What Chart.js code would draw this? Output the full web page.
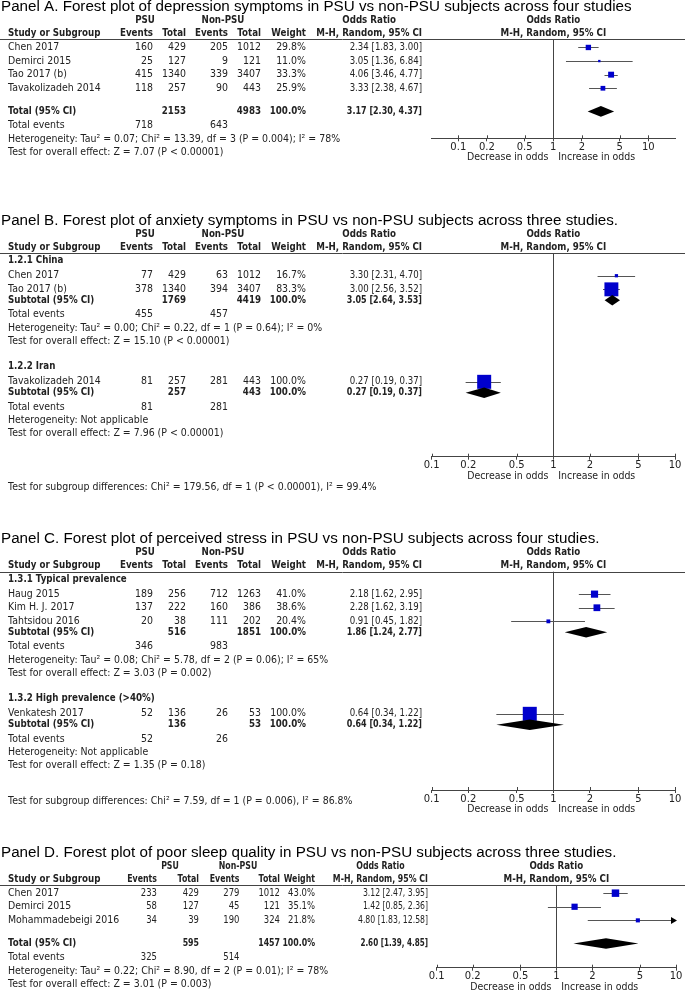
<!DOCTYPE html>
<html>
<head>
<meta charset="utf-8">
<script src="https://cdn.jsdelivr.net/npm/chart.js@4.4.1/dist/chart.umd.min.js"></script>
<style>
  html, body { margin: 0; padding: 0; background: #fff; }
  #page { position: relative; width: 685px; height: 992px; overflow: hidden; }
  #page canvas { position: absolute; left: 0; }
</style>
</head>
<body>
<div id="page">
  <canvas id="panelA"></canvas>
  <canvas id="panelB"></canvas>
  <canvas id="panelC"></canvas>
  <canvas id="panelD"></canvas>
</div>
<script>
// ---- shared axis ----
const tickValues = [0.1, 0.2, 0.5, 1, 2, 5, 10];
const tickLabels = ['0.1', '0.2', '0.5', '1', '2', '5', '10'];

// ---- Panel A: depression ----
const depTitle = 'Panel A. Forest plot of depression symptoms in PSU vs non-PSU subjects across four studies';
const depNames = ['Chen 2017', 'Demirci 2015', 'Tao 2017 (b)', 'Tavakolizadeh 2014'];
const depGroupOf = [0, 0, 0, 0];
const depGroups = [''];
const depPsu = [[160, 429], [25, 127], [415, 1340], [118, 257]];
const depNon = [[205, 1012], [9, 121], [339, 3407], [90, 443]];
const depWeight = [29.8, 11.0, 33.3, 25.9];
const depOR = [2.34, 3.05, 4.06, 3.33];
const depCI = [[1.83, 3.00], [1.36, 6.84], [3.46, 4.77], [2.38, 4.67]];
const depSubN = [[2153, 4983]];
const depSubEvents = [[718, 643]];
const depSubOR = [3.17];
const depSubCI = [[2.30, 4.37]];
const depNotes = [['Heterogeneity: Tau² = 0.07; Chi² = 13.39, df = 3 (P = 0.004); I² = 78%',
                   'Test for overall effect: Z = 7.07 (P < 0.00001)']];

// ---- Panel B: anxiety ----
const anxTitle = 'Panel B. Forest plot of anxiety symptoms in PSU vs non-PSU subjects across three studies.';
const anxNames = ['Chen 2017', 'Tao 2017 (b)', 'Tavakolizadeh 2014'];
const anxGroupOf = [0, 0, 1];
const anxGroups = ['1.2.1 China', '1.2.2 Iran'];
const anxPsu = [[77, 429], [378, 1340], [81, 257]];
const anxNon = [[63, 1012], [394, 3407], [281, 443]];
const anxWeight = [16.7, 83.3, 100.0];
const anxOR = [3.30, 3.00, 0.27];
const anxCI = [[2.31, 4.70], [2.56, 3.52], [0.19, 0.37]];
const anxSubN = [[1769, 4419], [257, 443]];
const anxSubEvents = [[455, 457], [81, 281]];
const anxSubOR = [3.05, 0.27];
const anxSubCI = [[2.64, 3.53], [0.19, 0.37]];
const anxNotes = [['Heterogeneity: Tau² = 0.00; Chi² = 0.22, df = 1 (P = 0.64); I² = 0%',
                   'Test for overall effect: Z = 15.10 (P < 0.00001)'],
                  ['Heterogeneity: Not applicable',
                   'Test for overall effect: Z = 7.96 (P < 0.00001)']];
const anxDiff = 'Test for subgroup differences: Chi² = 179.56, df = 1 (P < 0.00001), I² = 99.4%';

// ---- Panel C: perceived stress ----
const strTitle = 'Panel C. Forest plot of perceived stress in PSU vs non-PSU subjects across four studies.';
const strNames = ['Haug 2015', 'Kim H. J. 2017', 'Tahtsidou 2016', 'Venkatesh 2017'];
const strGroupOf = [0, 0, 0, 1];
const strGroups = ['1.3.1 Typical prevalence', '1.3.2 High prevalence (>40%)'];
const strPsu = [[189, 256], [137, 222], [20, 38], [52, 136]];
const strNon = [[712, 1263], [160, 386], [111, 202], [26, 53]];
const strWeight = [41.0, 38.6, 20.4, 100.0];
const strOR = [2.18, 2.28, 0.91, 0.64];
const strCI = [[1.62, 2.95], [1.62, 3.19], [0.45, 1.82], [0.34, 1.22]];
const strSubN = [[516, 1851], [136, 53]];
const strSubEvents = [[346, 983], [52, 26]];
const strSubOR = [1.86, 0.64];
const strSubCI = [[1.24, 2.77], [0.34, 1.22]];
const strNotes = [['Heterogeneity: Tau² = 0.08; Chi² = 5.78, df = 2 (P = 0.06); I² = 65%',
                   'Test for overall effect: Z = 3.03 (P = 0.002)'],
                  ['Heterogeneity: Not applicable',
                   'Test for overall effect: Z = 1.35 (P = 0.18)']];
const strDiff = 'Test for subgroup differences: Chi² = 7.59, df = 1 (P = 0.006), I² = 86.8%';

// ---- Panel D: poor sleep quality ----
const slpTitle = 'Panel D. Forest plot of poor sleep quality in PSU vs non-PSU subjects across three studies.';
const slpNames = ['Chen 2017', 'Demirci 2015', 'Mohammadebeigi 2016'];
const slpGroupOf = [0, 0, 0];
const slpGroups = [''];
const slpPsu = [[233, 429], [58, 127], [34, 39]];
const slpNon = [[279, 1012], [45, 121], [190, 324]];
const slpWeight = [43.0, 35.1, 21.8];
const slpOR = [3.12, 1.42, 4.80];
const slpCI = [[2.47, 3.95], [0.85, 2.36], [1.83, 12.58]];
const slpSubN = [[595, 1457]];
const slpSubEvents = [[325, 514]];
const slpSubOR = [2.60];
const slpSubCI = [[1.39, 4.85]];
const slpNotes = [['Heterogeneity: Tau² = 0.22; Chi² = 8.90, df = 2 (P = 0.01); I² = 78%',
                   'Test for overall effect: Z = 3.01 (P = 0.003)']];

// ---- look ----
const ROW = 13.6;      // px per table row
const AXIS_H = 16;     // x axis box height
const FONT_SIZE = 10;
const FAMILY = '"DejaVu Sans", Verdana, sans-serif';
const TITLE_FONT = '15.2px "Liberation Sans", Arial, sans-serif';
const INK = '#222';
const RULE = '#444';
const BOX_BLUE = '#0000cc';
// horizontal squeeze so DejaVu takes the width of the original's Lucida face
const SQ_TEXT = 0.94, SQ_BOLD = 0.87, SQ_OR = 0.86, SQ_OR_BOLD = 0.8;

const colsStd = { name: 8, psuEv: 153, psuTot: 186, nonEv: 228, nonTot: 261, weight: 306,
                  orRight: 422, psuHead: 145, nonHead: 223, k: 1 };
const colsWide = { name: 8, psuEv: 157, psuTot: 199, nonEv: 239.5, nonTot: 280, weight: 315,
                   orRight: 428, psuHead: 170, nonHead: 238, k: 0.9 };

// box side grows with study weight
function boxSide(w) { return Math.min(14, 0.16 * w + 0.6); }

// row slots (in table rows) for studies and subgroup summary lines
function layoutRows(groups, groupOf) {
  const study = [], grp = [];
  let s = 0.6;
  groups.forEach((title, g) => {
    const r = {};
    if (title) { r.title = s - 0.05; s += 1.05; }
    groupOf.forEach((gi, i) => { if (gi === g) { study[i] = s; s += 1; } });
    r.sub = s - 1 + (title ? 0.8 : 1.7);
    r.events = r.sub + 1.05;
    r.het = r.events + 1;
    r.z = r.het + 0.95;
    s = r.z + 1.95;
    grp.push(r);
  });
  return { study, grp };
}

function put(ctx, s, x, y, align, bold, k) {
  ctx.font = (bold ? 'bold ' : '') + FONT_SIZE + 'px ' + FAMILY;
  ctx.textAlign = align;
  ctx.textBaseline = 'middle';
  const w = ctx.measureText(s).width;
  ctx.fillText(s, x, y, w * (k || (bold ? SQ_BOLD : SQ_TEXT)));
}

function crisp(v) { return Math.round(v) + 0.5; }

function forestPlugin(p, rows) {
  return {
    id: 'forest',
    beforeDatasetsDraw(chart) {
      const { ctx, chartArea: a, scales: { x, y } } = chart;
      ctx.save();
      ctx.strokeStyle = RULE;
      ctx.lineWidth = 1;
      ctx.beginPath();
      ctx.moveTo(0, crisp(a.top)); ctx.lineTo(chart.width, crisp(a.top));
      const x1 = crisp(x.getPixelForValue(1));
      ctx.moveTo(x1, a.top); ctx.lineTo(x1, a.bottom);
      // tick marks also rise above the axis line
      x.ticks.forEach(t => {
        const tx = crisp(x.getPixelForValue(t.value));
        ctx.moveTo(tx, a.bottom - 3); ctx.lineTo(tx, a.bottom);
      });
      ctx.stroke();
      // confidence intervals
      p.ci.forEach(([lo, hi], i) => {
        const py = crisp(y.getPixelForValue(rows.study[i]));
        const xl = x.getPixelForValue(Math.max(lo, x.min));
        const xr = x.getPixelForValue(Math.min(hi, x.max));
        ctx.strokeStyle = '#555';
        ctx.beginPath(); ctx.moveTo(xl, py); ctx.lineTo(xr, py); ctx.stroke();
        if (hi > x.max) {
          ctx.fillStyle = '#000';
          ctx.beginPath();
          ctx.moveTo(xr + 1, py); ctx.lineTo(xr - 5, py - 3.5); ctx.lineTo(xr - 5, py + 3.5);
          ctx.closePath(); ctx.fill();
        }
      });
      ctx.restore();
    },
    afterDraw(chart) {
      const { ctx, chartArea: a, scales: { x, y } } = chart;
      const c = p.cols;
      const ry = v => y.getPixelForValue(v);
      // table columns right of the study names share the panel's squeeze
      const num = (s, px, py, align, bold) => put(ctx, s, px, py, align, bold, (bold ? SQ_BOLD : SQ_TEXT) * c.k);
      const orText = (or, ci, py, bold) => put(ctx,
        or.toFixed(2) + ' [' + ci[0].toFixed(2) + ', ' + ci[1].toFixed(2) + ']',
        c.orRight, py, 'right', bold, (bold ? SQ_OR_BOLD : SQ_OR) * c.k);

      ctx.save();
      ctx.fillStyle = '#000';
      // pooled diamonds
      p.subOR.forEach((or, g) => {
        const py = ry(rows.grp[g].sub);
        const [lo, hi] = p.subCI[g];
        ctx.beginPath();
        ctx.moveTo(x.getPixelForValue(lo), py);
        ctx.lineTo(x.getPixelForValue(or), py - 5.3);
        ctx.lineTo(x.getPixelForValue(hi), py);
        ctx.lineTo(x.getPixelForValue(or), py + 5.3);
        ctx.closePath();
        ctx.fill();
      });

      // title
      ctx.font = TITLE_FONT;
      ctx.textAlign = 'left';
      ctx.textBaseline = 'alphabetic';
      ctx.fillText(p.title, 1, a.top - 28.5);

      // header
      ctx.fillStyle = INK;
      const h1 = a.top - 19, h2 = a.top - 6;
      const mid = (a.left + a.right) / 2;
      ctx.font = 'bold ' + FONT_SIZE + 'px ' + FAMILY;
      const mhW = ctx.measureText('M-H, Random, 95% CI').width * SQ_BOLD * c.k;
      num('PSU', c.psuHead, h1, 'center', true);
      num('Non-PSU', c.nonHead, h1, 'center', true);
      num('Odds Ratio', c.orRight - mhW / 2, h1, 'center', true);
      put(ctx, 'Odds Ratio', mid, h1, 'center', true);
      put(ctx, 'Study or Subgroup', c.name, h2, 'left', true);
      num('Events', c.psuEv, h2, 'right', true);
      num('Total', c.psuTot, h2, 'right', true);
      num('Events', c.nonEv, h2, 'right', true);
      num('Total', c.nonTot, h2, 'right', true);
      num('Weight', c.weight, h2, 'right', true);
      num('M-H, Random, 95% CI', c.orRight, h2, 'right', true);
      put(ctx, 'M-H, Random, 95% CI', mid, h2, 'center', true);

      // study rows
      p.names.forEach((name, i) => {
        const py = ry(rows.study[i]);
        put(ctx, name, c.name, py, 'left');
        num(String(p.psu[i][0]), c.psuEv, py, 'right');
        num(String(p.psu[i][1]), c.psuTot, py, 'right');
        num(String(p.non[i][0]), c.nonEv, py, 'right');
        num(String(p.non[i][1]), c.nonTot, py, 'right');
        num(p.weight[i].toFixed(1) + '%', c.weight, py, 'right');
        orText(p.or[i], p.ci[i], py, false);
      });

      // subgroup blocks
      p.groups.forEach((title, g) => {
        const r = rows.grp[g];
        if (title) put(ctx, title, c.name, ry(r.title), 'left', true);
        const sy = ry(r.sub);
        put(ctx, p.subLabel, c.name, sy, 'left', true);
        num(String(p.subN[g][0]), c.psuTot, sy, 'right', true);
        num(String(p.subN[g][1]), c.nonTot, sy, 'right', true);
        num('100.0%', c.weight, sy, 'right', true);
        orText(p.subOR[g], p.subCI[g], sy, true);
        const ey = ry(r.events);
        put(ctx, 'Total events', c.name, ey, 'left');
        num(String(p.subEvents[g][0]), c.psuEv, ey, 'right');
        num(String(p.subEvents[g][1]), c.nonEv, ey, 'right');
        put(ctx, p.notes[g][0], c.name, ry(r.het), 'left');
        put(ctx, p.notes[g][1], c.name, ry(r.z), 'left');
      });
      if (p.diff) {
        const last = rows.grp[rows.grp.length - 1];
        put(ctx, p.diff, c.name, ry(last.z + p.box.diffGap), 'left');
      }

      // direction labels
      const x1 = x.getPixelForValue(1);
      put(ctx, 'Decrease in odds', x1 - 5, a.bottom + 19.5, 'right');
      put(ctx, 'Increase in odds', x1 + 5, a.bottom + 19.5, 'left');
      ctx.restore();
    }
  };
}

function drawPanel(p) {
  const el = document.getElementById(p.id);
  const b = p.box;
  el.width = 685;
  el.height = b.height;
  el.style.top = b.top + 'px';
  const rows = layoutRows(p.groups, p.groupOf);

  new Chart(el, {
    type: 'scatter',
    data: {
      datasets: [{
        data: p.or.map((v, i) => ({ x: v, y: rows.study[i] })),
        pointStyle: 'rect',
        pointRadius: p.weight.map(w => boxSide(w) / Math.SQRT2),
        pointBackgroundColor: BOX_BLUE,
        pointBorderWidth: 0,
        clip: false
      }]
    },
    options: {
      responsive: false,
      animation: false,
      events: [],
      layout: {
        padding: {
          top: b.lineY - b.top,
          bottom: b.top + b.height - b.axisY - AXIS_H,
          left: b.plotLeft,
          right: 685 - b.plotRight
        }
      },
      plugins: { legend: { display: false }, tooltip: { enabled: false } },
      scales: {
        x: {
          type: 'logarithmic',
          min: b.xMin,
          max: b.xMax,
          afterBuildTicks: s => { s.ticks = tickValues.map(v => ({ value: v })); },
          afterFit: s => { s.height = AXIS_H; },
          grid: { drawOnChartArea: false, drawTicks: true, tickLength: 3, color: RULE },
          border: { display: true, color: RULE, width: 1 },
          ticks: {
            autoSkip: false, maxRotation: 0, padding: 0, color: INK,
            font: { family: FAMILY, size: FONT_SIZE },
            callback: v => tickLabels[tickValues.indexOf(v)]
          }
        },
        y: { type: 'linear', display: false, reverse: true, min: 0, max: (b.axisY - b.lineY) / ROW }
      }
    },
    plugins: [forestPlugin(p, rows)]
  });
}

drawPanel({ id: 'panelA', title: depTitle, names: depNames, groupOf: depGroupOf, groups: depGroups,
  psu: depPsu, non: depNon, weight: depWeight, or: depOR, ci: depCI,
  subLabel: 'Total (95% CI)', subN: depSubN, subEvents: depSubEvents, subOR: depSubOR, subCI: depSubCI,
  notes: depNotes, diff: '', cols: colsStd,
  box: { top: 0, height: 166, lineY: 39.3, axisY: 138.3, plotLeft: 431.7, plotRight: 675, xMin: 0.0525, xMax: 19.1 } });

drawPanel({ id: 'panelB', title: anxTitle, names: anxNames, groupOf: anxGroupOf, groups: anxGroups,
  psu: anxPsu, non: anxNon, weight: anxWeight, or: anxOR, ci: anxCI,
  subLabel: 'Subtotal (95% CI)', subN: anxSubN, subEvents: anxSubEvents, subOR: anxSubOR, subCI: anxSubCI,
  notes: anxNotes, diff: anxDiff, cols: colsStd,
  box: { top: 205, height: 292, lineY: 253.3, axisY: 456.7, plotLeft: 431.7, plotRight: 675, xMin: 0.1, xMax: 10, diffGap: 3.95 } });

drawPanel({ id: 'panelC', title: strTitle, names: strNames, groupOf: strGroupOf, groups: strGroups,
  psu: strPsu, non: strNon, weight: strWeight, or: strOR, ci: strCI,
  subLabel: 'Subtotal (95% CI)', subN: strSubN, subEvents: strSubEvents, subOR: strSubOR, subCI: strSubCI,
  notes: strNotes, diff: strDiff, cols: colsStd,
  box: { top: 522, height: 295, lineY: 571.7, axisY: 790, plotLeft: 431.7, plotRight: 675, xMin: 0.1, xMax: 10, diffGap: 2.64 } });

drawPanel({ id: 'panelD', title: slpTitle, names: slpNames, groupOf: slpGroupOf, groups: slpGroups,
  psu: slpPsu, non: slpNon, weight: slpWeight, or: slpOR, ci: slpCI,
  subLabel: 'Total (95% CI)', subN: slpSubN, subEvents: slpSubEvents, subOR: slpSubOR, subCI: slpSubCI,
  notes: slpNotes, diff: '', cols: colsWide,
  box: { top: 836, height: 156, lineY: 885, axisY: 967.7, plotLeft: 436.7, plotRight: 676, xMin: 0.1, xMax: 10 } });
</script>
</body>
</html>
